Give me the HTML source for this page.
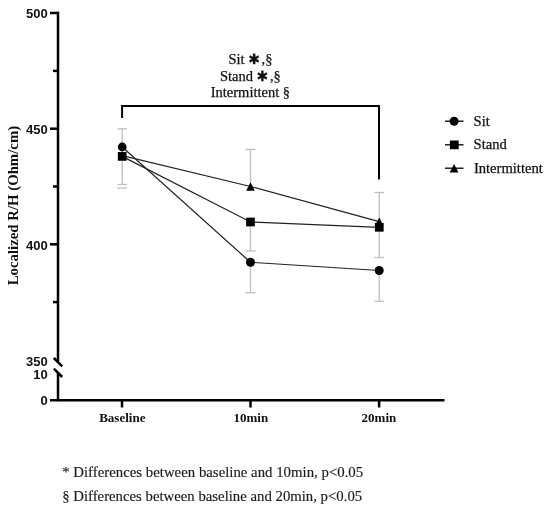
<!DOCTYPE html>
<html><head><meta charset="utf-8">
<style>
html,body{margin:0;padding:0;background:#fff;}
body{width:550px;height:510px;overflow:hidden;}
svg{display:block;}
.yl{font-family:"Liberation Sans",Arial,sans-serif;font-weight:bold;font-size:13px;fill:#111;}
.xl{font-family:"Liberation Serif","Times New Roman",serif;font-weight:bold;font-size:13px;fill:#111;}
.ti{font-family:"Liberation Serif","Times New Roman",serif;font-weight:bold;font-size:14.8px;fill:#111;}
.an{font-family:"Liberation Serif","Times New Roman",serif;font-size:14.5px;fill:#111;stroke:#111;stroke-width:0.25px;}
.ast{font-family:"DejaVu Sans",sans-serif;font-size:14px;}
.lg{font-family:"Liberation Serif","Times New Roman",serif;font-size:14.6px;fill:#111;stroke:#111;stroke-width:0.25px;}
.fn{font-family:"Liberation Serif","Times New Roman",serif;font-size:14.5px;fill:#1a1a1a;stroke:#1a1a1a;stroke-width:0.15px;}
</style></head>
<body>
<svg width="550" height="510" viewBox="0 0 550 510">
<!-- axes -->
<g stroke="#000" stroke-width="2.5" fill="none" stroke-linecap="butt">
  <!-- y axis upper segment -->
  <line x1="58" y1="11.8" x2="58" y2="361.5"/>
  <!-- y axis lower segment -->
  <line x1="58" y1="372.5" x2="58" y2="401.2"/>
  <!-- major ticks -->
  <line x1="50" y1="13" x2="59" y2="13"/>
  <line x1="50" y1="128.7" x2="58" y2="128.7"/>
  <line x1="50" y1="244.3" x2="58" y2="244.3"/>
  <!-- minor ticks -->
  <line x1="53" y1="70.9" x2="58" y2="70.9"/>
  <line x1="53" y1="186.5" x2="58" y2="186.5"/>
  <line x1="53" y1="302.1" x2="58" y2="302.1"/>
  <!-- breaks -->
  <line x1="53.8" y1="358" x2="62.2" y2="366.3"/>
  <line x1="53.8" y1="368.6" x2="62.2" y2="377"/>
  <!-- x axis -->
  <line x1="50" y1="400.2" x2="444.5" y2="400.2"/>
  <line x1="122" y1="400" x2="122" y2="407.5"/>
  <line x1="250.5" y1="400" x2="250.5" y2="407.5"/>
  <line x1="379.1" y1="400" x2="379.1" y2="407.5"/>
</g>
<!-- y labels -->
<g class="yl" text-anchor="end">
  <text x="47.8" y="17.8">500</text>
  <text x="47.8" y="133.6">450</text>
  <text x="47.8" y="249.6">400</text>
  <text x="47.8" y="365.6">350</text>
  <text x="47.8" y="378.7">10</text>
  <text x="47.8" y="404.6">0</text>
</g>
<!-- x labels -->
<g class="xl" text-anchor="middle">
  <text x="122.3" y="421.8">Baseline</text>
  <text x="250.8" y="421.8">10min</text>
  <text x="378.9" y="421.8">20min</text>
</g>
<!-- y title -->
<text class="ti" text-anchor="middle" transform="translate(17.9 205.6) rotate(-90)">Localized R/H (Ohm/cm)</text>

<!-- bracket -->
<path d="M122.1 118 V106 H379 V179.5" stroke="#000" stroke-width="2" fill="none"/>

<!-- annotation -->
<g class="an" text-anchor="middle">
  <text x="250.4" y="64">Sit <tspan class="ast">✱</tspan><tspan dx="1.6">,§</tspan></text>
  <text x="250.4" y="80.5">Stand <tspan class="ast">✱</tspan><tspan dx="1.6">,§</tspan></text>
  <text x="250.4" y="97">Intermittent §</text>
</g>

<!-- error bars -->
<g stroke="#c0c0c0" stroke-width="1.3" fill="none">
  <line x1="122.2" y1="128.8" x2="122.2" y2="184.5"/>
  <line x1="117.4" y1="128.8" x2="127" y2="128.8"/>
  <line x1="117.4" y1="184.5" x2="127" y2="184.5"/>
  <line x1="117.4" y1="188.1" x2="127" y2="188.1"/>

  <line x1="250.5" y1="149.4" x2="250.5" y2="186"/>
  <line x1="245.4" y1="149.4" x2="255.6" y2="149.4"/>
  <line x1="250.5" y1="222" x2="250.5" y2="251"/>
  <line x1="245.4" y1="251" x2="255.6" y2="251"/>
  <line x1="250.5" y1="262" x2="250.5" y2="292.7"/>
  <line x1="245.4" y1="292.7" x2="255.6" y2="292.7"/>

  <line x1="379.2" y1="192.5" x2="379.2" y2="222"/>
  <line x1="374.4" y1="192.5" x2="384" y2="192.5"/>
  <line x1="379.2" y1="227" x2="379.2" y2="257.5"/>
  <line x1="374.4" y1="257.5" x2="384" y2="257.5"/>
  <line x1="379.2" y1="270" x2="379.2" y2="301.3"/>
  <line x1="374.4" y1="301.3" x2="384" y2="301.3"/>
</g>

<!-- data lines -->
<g stroke="#222" stroke-width="1.2" fill="none">
  <polyline points="122.2,155.6 250.5,186.5 379.2,221.6"/>
  <polyline points="122.2,156.4 250.5,222 379.3,227.3"/>
  <polyline points="122.2,147 250.5,262.3 379.2,270.5"/>
</g>
<!-- markers -->
<g fill="#000">
  <!-- triangles -->
  <path d="M122.2 151.4 L126.5 159.8 L117.9 159.8 Z"/>
  <path d="M250.5 182.3 L254.8 190.7 L246.2 190.7 Z"/>
  <path d="M379.2 217.4 L383.5 225.8 L374.9 225.8 Z"/>
  <!-- squares -->
  <rect x="117.85" y="152.05" width="8.7" height="8.7"/>
  <rect x="246.15" y="217.65" width="8.7" height="8.7"/>
  <rect x="374.95" y="222.95" width="8.7" height="8.7"/>
  <!-- circles -->
  <circle cx="122.2" cy="147" r="4.4"/>
  <circle cx="250.5" cy="262.3" r="4.5"/>
  <circle cx="379.2" cy="270.5" r="4.5"/>
</g>

<!-- legend -->
<g stroke="#000" stroke-width="1.3">
  <line x1="445" y1="121.2" x2="463.5" y2="121.2"/>
  <line x1="445" y1="144.8" x2="463.5" y2="144.8"/>
  <line x1="445" y1="168.2" x2="463.5" y2="168.2"/>
</g>
<g fill="#000">
  <circle cx="454.1" cy="121.2" r="4.5"/>
  <rect x="449.9" y="140.5" width="8.8" height="8.7"/>
  <path d="M454.1 163.9 L458.5 172.5 L449.7 172.5 Z"/>
</g>
<g class="lg">
  <text x="473.6" y="126">Sit</text>
  <text x="473.6" y="149.4">Stand</text>
  <text x="473.9" y="173">Intermittent</text>
</g>

<!-- footnotes -->
<g class="fn">
  <text x="62.2" y="476.5" textLength="301" lengthAdjust="spacingAndGlyphs">* Differences between baseline and 10min, p&lt;0.05</text>
  <text x="62.2" y="501" textLength="300" lengthAdjust="spacingAndGlyphs">§ Differences between baseline and 20min, p&lt;0.05</text>
</g>
</svg>
</body></html>
